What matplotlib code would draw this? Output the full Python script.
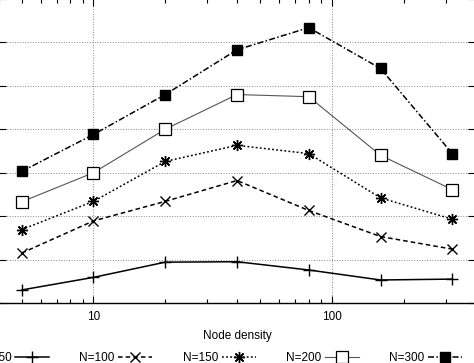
import matplotlib
matplotlib.use("Agg")
import matplotlib.pyplot as plt
from matplotlib.ticker import LogLocator, NullFormatter, FixedLocator

plt.rcParams['font.family'] = ['Liberation Sans', 'DejaVu Sans']

# node density (x) and the five curves (y)
density = [5, 10, 20, 40, 80, 160, 320]
n50 = [0.30, 0.59, 0.94, 0.95, 0.76, 0.53, 0.55]
n100 = [1.15, 1.89, 2.34, 2.82, 2.13, 1.53, 1.24]
n150 = [1.69, 2.34, 3.26, 3.63, 3.44, 2.42, 1.93]
n200 = [2.33, 3.00, 4.00, 4.80, 4.75, 3.40, 2.61]
n300 = [3.03, 3.88, 4.80, 5.83, 6.34, 5.40, 3.44]
labels = ['N=50', 'N=100', 'N=150', 'N=200', 'N=300']

fig = plt.figure(figsize=(4.74, 3.63), dpi=100)
ax = fig.add_axes([-0.003, 0.1653, 1.006, 0.8375])

lw = 1.1
ax.plot(density, n50, color='black', lw=lw, ls='-', marker='+', ms=8, mew=1.0, label=labels[0])
ax.plot(density, n100, color='black', lw=lw, ls=(0, (3, 2)), marker='x', ms=7.5, mew=1.0, label=labels[1])
ax.plot(density, n150, color='black', lw=lw, ls=(0, (1.2, 1.5)), marker=(8, 2, 0), ms=8, mew=1.0, label=labels[2])
ax.plot(density, n200, color='#555555', lw=0.8, ls='-', marker='s', ms=8.5, mfc='white', mec='black',
        mew=0.9, label=labels[3])
ax.plot(density, n300, color='black', lw=lw, ls=(0, (4, 1.5, 1, 1.5)), marker='s', ms=7.5, mfc='black',
        mec='black', label=labels[4])

ax.set_xscale('log')
ax.set_xlim(4, 400)
ax.set_ylim(0, 7)
ax.xaxis.set_major_locator(FixedLocator([10, 100]))
ax.xaxis.set_minor_locator(LogLocator(base=10, subs=range(2, 10)))
ax.xaxis.set_minor_formatter(NullFormatter())
ax.set_xticklabels(['10', '100'])
ax.set_yticks(range(0, 8))

ax.tick_params(which='both', direction='in', top=True, right=True, labelleft=False,
               labelsize=8.5, pad=6)
ax.tick_params(which='major', length=5, width=0.8)
ax.tick_params(which='minor', length=3, width=0.8)
ax.grid(True, which='major', color='#888888', ls=':', lw=0.7)
for s in ax.spines.values():
    s.set_linewidth(1.0)

ax.set_xlabel('Node density', fontsize=8.5, labelpad=5)

fig.legend(loc='center right', bbox_to_anchor=(462 / 474, 5 / 363), ncol=5, frameon=False,
           markerfirst=False, fontsize=8.5, handlelength=2.9, handletextpad=0.3,
           columnspacing=2.55, borderpad=0, borderaxespad=0)

fig.savefig('out.png', dpi=100)
